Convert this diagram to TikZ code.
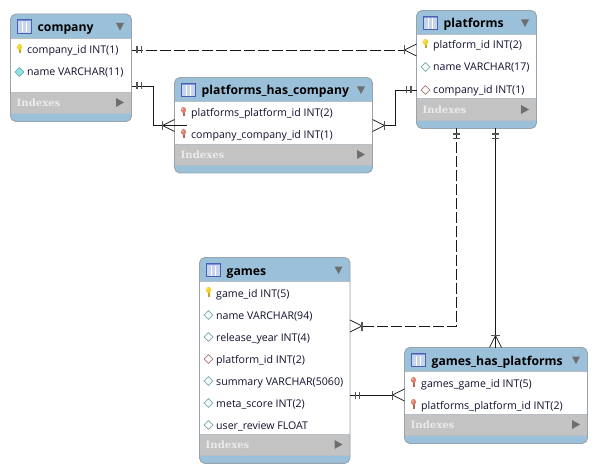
\documentclass[tikz,border=0pt]{standalone}
\usepackage{fontspec}
\setmainfont{Open Sans}
\newfontfamily\idxfont{DejaVu Serif}
\definecolor{hdrblue}{HTML}{9BC0DA}
\definecolor{idxgrey}{HTML}{C3C3C3}
\definecolor{edgegrey}{HTML}{98A3AB}
\definecolor{rowtext}{HTML}{10102E}
\definecolor{arrowgrey}{HTML}{6E6E6E}
\definecolor{pkyellow}{HTML}{F2D21E}
\definecolor{pkred}{HTML}{DE7F6C}
\definecolor{diateal}{HTML}{6FA8A8}
\definecolor{diared}{HTML}{A87878}
\definecolor{diacyan}{HTML}{8FE6EA}
\definecolor{barcol}{HTML}{555555}
\definecolor{iconedge}{HTML}{4A5FB0}
\definecolor{iconfill}{HTML}{C6D4F0}
\definecolor{icontop}{HTML}{7F96D8}
\tikzset{
  x=1pt,y=-1pt,
  tablebody/.style={anchor=north west,fill=hdrblue,rounded corners=5.5pt,inner sep=0pt,outer sep=0pt},
  tableedge/.style={draw=edgegrey,line width=0.9pt,rounded corners=5.5pt},
  bandline/.style={draw=edgegrey!70,line width=0.7pt},
  titletext/.style={anchor=base west,inner sep=0pt,font=\fontsize{12.2}{14}\selectfont\bfseries,text=black},
  rowlabel/.style={anchor=base west,inner sep=0pt,font=\fontsize{10.6}{12}\selectfont,text=rowtext},
  idxtext/.style={anchor=base west,inner sep=0pt,font=\fontsize{10.1}{12}\idxfont\bfseries,text=white!92!black},
  rel/.style={line width=0.85pt,draw=black!90},
  reldash/.style={rel,dash pattern=on 11pt off 3pt},
  dblbar/.pic={\draw[line width=1.3pt,barcol] (5.5,-3.5)--(5.5,3.5) (9.7,-3.5)--(9.7,3.5);},
  crowfoot/.pic={\draw[line width=0.85pt,black!85] (0,-6)--(12,0)--(0,6);
     \draw[line width=1.3pt,barcol] (12,-4.5)--(12,4.5);},
  pkkey/.pic={\fill[#1!80!black] (-1,-1) rectangle (1,3.5);\fill[#1] (0,-3) ellipse (2.6 and 3);\fill[white,opacity=.55] (-.7,-3.8) circle (.9);},
  dia/.pic={\draw[draw=#1,line width=0.7pt,fill=white] (-4.3,0)--(0,-4.3)--(4.3,0)--(0,4.3)--cycle;},
  diafill/.pic={\draw[draw=diateal,line width=0.7pt,fill=diacyan] (-4.3,0)--(0,-4.3)--(4.3,0)--(0,4.3)--cycle;},
  tabicon/.pic={\draw[draw=iconedge,line width=0.9pt,fill=iconfill] (0,0) rectangle (13.5,13.5);
     \draw[white,line width=0.6pt] (4.5,2.5)--(4.5,13) (9,2.5)--(9,13);
     \draw[icontop,line width=1pt] (.5,1.5) -- (13,1.5);},
}
% name, x0, x1, y0, header bottom, white bottom, grey bottom, y1, title
\newcommand\erdtable[9]{%
  \node[tablebody,minimum width={(#3-#2)*1pt},minimum height={(#8-#4)*1pt}] (#1) at (#2,#4) {};
  \fill[white] (#2,#5) rectangle (#3,#6);
  \fill[idxgrey] (#2,#6) rectangle (#3,#7);
  \draw[bandline] (#2,#6)--(#3,#6) (#2,#7)--(#3,#7);
  \draw[bandline] (#2,#5)--(#3,#5);
  \draw[tableedge] (#2,#4) rectangle (#3,#8);
  \pic at ({#2+7},{#4+5.5}) {tabicon};
  \node[titletext] (#1-title) at ({#2+27},{#4+17.5}) {#9};
  \fill[arrowgrey] ({#3-15.5},{#4+9}) -- ({#3-7.5},{#4+9}) -- ({#3-11.5},{#4+16.5}) -- cycle;
  \node[idxtext] (#1-idx) at ({#2+6},{(#6+#7)/2+4}) {Indexes};
  \fill[arrowgrey] ({#3-15.5},{(#6+#7)/2-4.5}) -- ({#3-7.5},{(#6+#7)/2}) -- ({#3-15.5},{(#6+#7)/2+4.5}) -- cycle;
}
% node name, x0, y, icon, text
\newcommand\erdrow[5]{%
  \pic at ({#2+9},{#3}) {#4};
  \node[rowlabel] (#1) at ({#2+16.5},{#3+4}) {#5};
}
\begin{document}
\begin{tikzpicture}
\useasboundingbox[fill=white] (0,0) rectangle (597,473);

\erdtable{company}{10.5}{131.5}{14}{38}{92}{113}{121.5}{company}
\erdrow{c1}{10.5}{50}{pkkey=pkyellow}{company\_id INT(1)}
\erdrow{c2}{10.5}{72}{diafill}{name VARCHAR(11)}

\erdtable{phc}{174.5}{372.5}{77.5}{101.5}{144}{165}{173}{platforms\_has\_company}
\erdrow{h1}{174.5}{113}{pkkey=pkred}{platforms\_platform\_id INT(2)}
\erdrow{h2}{174.5}{135}{pkkey=pkred}{company\_company\_id INT(1)}

\erdtable{platforms}{416.5}{536.5}{10.5}{34}{98.5}{120.5}{128.5}{platforms}
\erdrow{p1}{416.5}{45}{pkkey=pkyellow}{platform\_id INT(2)}
\erdrow{p2}{416.5}{67}{dia=diateal}{name VARCHAR(17)}
\erdrow{p3}{416.5}{90}{dia=diared}{company\_id INT(1)}

\erdtable{games}{199.5}{350}{257.5}{281.5}{434}{455}{463.5}{games}
\erdrow{g1}{199.5}{293}{pkkey=pkyellow}{game\_id INT(5)}
\erdrow{g2}{199.5}{315}{dia=diateal}{name VARCHAR(94)}
\erdrow{g3}{199.5}{337}{dia=diateal}{release\_year INT(4)}
\erdrow{g4}{199.5}{359}{dia=diared}{platform\_id INT(2)}
\erdrow{g5}{199.5}{381}{dia=diateal}{summary VARCHAR(5060)}
\erdrow{g6}{199.5}{403}{dia=diateal}{meta\_score INT(2)}
\erdrow{g7}{199.5}{425}{dia=diateal}{user\_review FLOAT}

\erdtable{ghp}{404.5}{587.5}{347.5}{371.5}{414}{435}{443.5}{games\_has\_platforms}
\erdrow{k1}{404.5}{383}{pkkey=pkred}{games\_game\_id INT(5)}
\erdrow{k2}{404.5}{405}{pkkey=pkred}{platforms\_platform\_id INT(2)}

% connectors
\draw[reldash] (company.east |- 0,50) -- ([xshift=-12pt]platforms.west |- 0,50);
\draw[rel] (company.east |- 0,86) -| (153.5,125.5) -- ([xshift=12pt]phc.west |- 0,125.5);
\draw[rel] ([xshift=12pt]phc.east |- 0,125.5) -| (395,90) -- (platforms.west |- 0,90);
\draw[reldash] (platforms.south -| 456.5,0) -- (456.5,326) -- ([xshift=12pt]games.east |- 0,326);
\draw[rel] (platforms.south -| 495.5,0) -- (ghp.north -| 495.5,0);
\draw[rel] (games.east |- 0,395) -- ([xshift=-12pt]ghp.west |- 0,395);

\pic at (company.east |- 0,50) {dblbar};
\pic[rotate=180] at (platforms.west |- 0,50) {crowfoot};
\pic at (company.east |- 0,86) {dblbar};
\pic[rotate=180] at (phc.west |- 0,125.5) {crowfoot};
\pic at (phc.east |- 0,125.5) {crowfoot};
\pic[rotate=180] at (platforms.west |- 0,90) {dblbar};
\pic[rotate=-90] at (platforms.south -| 456.5,0) {dblbar};
\pic[rotate=-90] at (platforms.south -| 495.5,0) {dblbar};
\pic at (games.east |- 0,326) {crowfoot};
\pic[rotate=90] at (ghp.north -| 495.5,0) {crowfoot};
\pic at (games.east |- 0,395) {dblbar};
\pic[rotate=180] at (ghp.west |- 0,395) {crowfoot};
\end{tikzpicture}
\end{document}
